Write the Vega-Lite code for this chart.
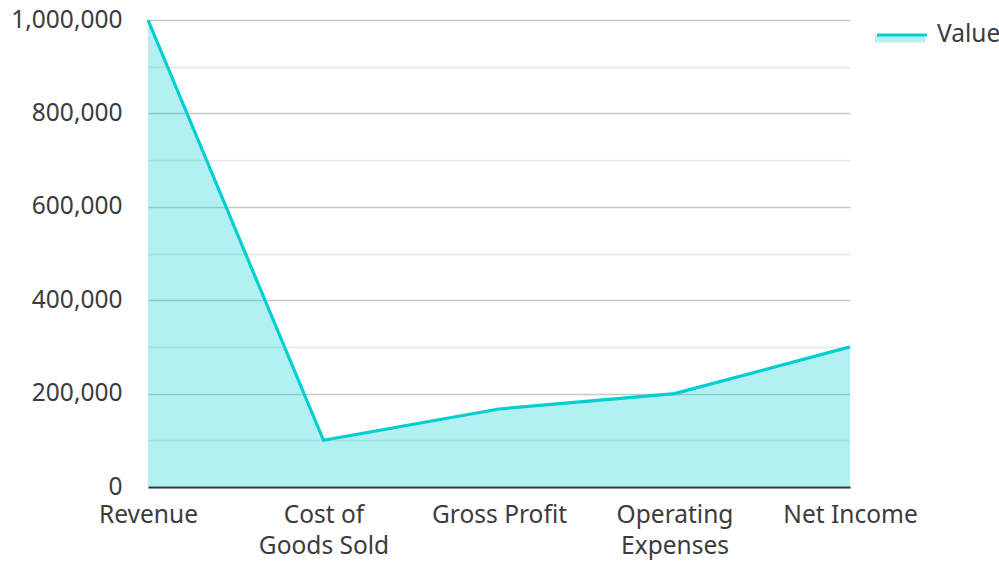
{
  "$schema": "https://vega.github.io/schema/vega-lite/v6.json",
  "width": 702,
  "height": 467,
  "autosize": {"type": "none"},
  "padding": {"left": 148, "top": 20, "right": 149, "bottom": 74},
  "background": "white",
  "config": {
    "view": {"stroke": null},
    "font": "Noto Sans",
    "axis": {"labelFont": "Noto Sans", "labelColor": "#3c3c3c", "labelFontSize": 24.5},
    "legend": {"labelFont": "Noto Sans", "labelColor": "#3c3c3c", "labelFontSize": 24.5}
  },
  "data": {
    "values": [
      {"category": "Revenue", "value": 1000000},
      {"category": "Cost of Goods Sold", "value": 100000},
      {"category": "Gross Profit", "value": 167000},
      {"category": "Operating Expenses", "value": 200000},
      {"category": "Net Income", "value": 300000}
    ]
  },
  "encoding": {
    "x": {
      "field": "category",
      "type": "nominal",
      "sort": null,
      "scale": {"type": "point", "padding": 0},
      "axis": {
        "title": null,
        "labelAngle": 0,
        "ticks": false,
        "domainColor": "#333333",
        "domainWidth": 2,
        "labelPadding": 16,
        "labelLineHeight": 31,
        "labelExpr": "datum.value == 'Cost of Goods Sold' ? ['Cost of', 'Goods Sold'] : datum.value == 'Operating Expenses' ? ['Operating', 'Expenses'] : datum.value"
      }
    },
    "y": {
      "field": "value",
      "type": "quantitative",
      "scale": {"domain": [0, 1000000], "nice": false},
      "axis": {
        "title": null,
        "domain": false,
        "ticks": false,
        "labelPadding": 26,
        "values": [0, 100000, 200000, 300000, 400000, 500000, 600000, 700000, 800000, 900000, 1000000],
        "labelExpr": "datum.value % 200000 === 0 ? format(datum.value, ',') : ''",
        "gridColor": {"condition": {"test": "datum.value % 200000 === 0", "value": "#c8c8c8"}, "value": "#e8e8e8"},
        "gridWidth": 1.5
      }
    }
  },
  "layer": [
    {
      "mark": {"type": "area", "fillOpacity": 0.3, "strokeWidth": 0},
      "encoding": {
        "fill": {
          "datum": "ValueFill",
          "scale": {"range": ["#00CED1"]},
          "legend": {
            "title": null,
            "orient": "none",
            "legendX": 727,
            "legendY": -12,
            "padding": 0,
            "symbolType": "M-1,0.08H1V0.38H-1Z",
            "symbolSize": 2500,
            "symbolOpacity": 0.3,
            "symbolStrokeWidth": 0,
            "labelExpr": "''",
            "labelOffset": 8
          }
        }
      }
    },
    {
      "mark": {"type": "line", "strokeWidth": 3.2, "color": "#00CED1"},
      "encoding": {
        "stroke": {
          "datum": "Value",
          "scale": {"range": ["#00CED1"]},
          "legend": {
            "title": null,
            "orient": "none",
            "legendX": 727,
            "legendY": -12,
            "padding": 0,
            "symbolType": "stroke",
            "symbolSize": 2500,
            "symbolStrokeWidth": 3.2,
            "labelOffset": 8
          }
        }
      }
    }
  ]
}
